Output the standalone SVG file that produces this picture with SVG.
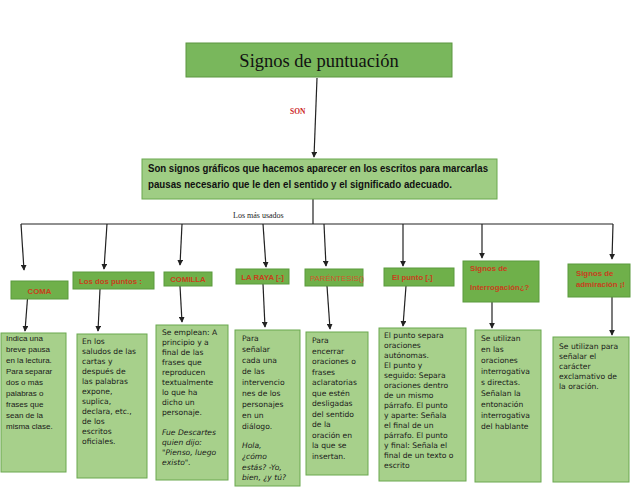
<svg xmlns="http://www.w3.org/2000/svg" width="638" height="493" viewBox="0 0 638 493">
<defs>
<style>
.hdr{fill:#6fb04a;stroke:#5a9a3c;stroke-width:1}
.body{fill:#a7d08b;stroke:#6aa84f;stroke-width:1}
.ht{font-family:"Liberation Sans",Arial,sans-serif;font-weight:bold;font-size:7.8px;fill:#c8401c}
.bt{font-family:"DejaVu Sans",Verdana,sans-serif;font-size:7.6px;fill:#1a1a1a}
.bta{font-family:"Liberation Sans",Arial,sans-serif;font-size:8px;fill:#1a1a1a}
.it{font-style:italic}
.ln{stroke:#222;stroke-width:1.2;fill:none}
</style>
<marker id="ah" viewBox="0 0 8 8" refX="7" refY="4" markerWidth="5" markerHeight="5" orient="auto">
<path d="M0,0 L8,4 L0,8 z" fill="#222"/>
</marker>
</defs>
<rect width="638" height="493" fill="#ffffff"/>

<g id="connectors">
<line class="ln" x1="317" y1="78" x2="314" y2="157" marker-end="url(#ah)"/>
<line class="ln" x1="313" y1="199" x2="313" y2="224"/>
<line class="ln" x1="21" y1="224" x2="613" y2="224"/>
<line class="ln" x1="21" y1="224" x2="24" y2="270" marker-end="url(#ah)"/>
<line class="ln" x1="107" y1="224" x2="104" y2="269" marker-end="url(#ah)"/>
<line class="ln" x1="182" y1="224" x2="180" y2="265" marker-end="url(#ah)"/>
<line class="ln" x1="263" y1="224" x2="266" y2="267" marker-end="url(#ah)"/>
<line class="ln" x1="324" y1="224" x2="326" y2="266" marker-end="url(#ah)"/>
<line class="ln" x1="403" y1="224" x2="403" y2="266" marker-end="url(#ah)"/>
<line class="ln" x1="482" y1="224" x2="482" y2="258" marker-end="url(#ah)"/>
<line class="ln" x1="613" y1="224" x2="612" y2="259" marker-end="url(#ah)"/>
<line class="ln" x1="28" y1="292" x2="25" y2="331" marker-end="url(#ah)"/>
<line class="ln" x1="100" y1="289" x2="98" y2="331" marker-end="url(#ah)"/>
<line class="ln" x1="180" y1="286" x2="182" y2="322" marker-end="url(#ah)"/>
<line class="ln" x1="263" y1="284" x2="265" y2="327" marker-end="url(#ah)"/>
<line class="ln" x1="327" y1="286" x2="330" y2="329" marker-end="url(#ah)"/>
<line class="ln" x1="406" y1="286" x2="403" y2="326" marker-end="url(#ah)"/>
<line class="ln" x1="492" y1="302" x2="492" y2="328" marker-end="url(#ah)"/>
<line class="ln" x1="612" y1="297" x2="612" y2="335" marker-end="url(#ah)"/>
<text x="290" y="114" font-family="'Liberation Serif',serif" font-weight="bold" font-size="7.5px" fill="#cc1f1f">SON</text>
<text x="233" y="218" font-family="'Liberation Serif',serif" font-size="8px" fill="#222">Los más usados</text>
</g>

<g id="title">
<rect x="186" y="43" width="266" height="34" fill="#79b75c" stroke="#5d9640"/>
<text x="319" y="67" text-anchor="middle" font-family="'Liberation Serif',serif" font-size="18.5px" fill="#111">Signos de puntuación</text>
</g>

<g id="definicion">
<rect x="142" y="159" width="355" height="40" fill="#9fcd84" stroke="#6aa84f"/>
<text font-family="'Liberation Sans',Arial,sans-serif" font-weight="bold" font-size="10px" fill="#111">
<tspan x="148" y="172" textLength="340" lengthAdjust="spacingAndGlyphs">Son signos gráficos que hacemos aparecer en los escritos para marcarlas</tspan>
<tspan x="148" y="188" textLength="304" lengthAdjust="spacingAndGlyphs">pausas necesario que le den el sentido y el significado adecuado.</tspan>
</text>
</g>

<g id="coma">
<rect class="hdr" x="11" y="281" width="57" height="18"/>
<text class="ht" x="39.5" y="293.5" text-anchor="middle" font-size="8.5px">COMA</text>
<rect class="body" x="1" y="333" width="65" height="139"/>
<text class="bta">
<tspan x="6" y="341">Indica una</tspan>
<tspan x="6" y="352">breve pausa</tspan>
<tspan x="6" y="363">en la lectura.</tspan>
<tspan x="6" y="374">Para separar</tspan>
<tspan x="6" y="385">dos o más</tspan>
<tspan x="6" y="396">palabras o</tspan>
<tspan x="6" y="407">frases que</tspan>
<tspan x="6" y="418">sean de la</tspan>
<tspan x="6" y="429">misma clase.</tspan>
</text>
</g>

<g id="dos-puntos">
<rect class="hdr" x="73" y="272" width="81" height="17"/>
<text class="ht" x="79" y="283.5">Los dos puntos :</text>
<rect class="body" x="77" y="334" width="70" height="144"/>
<text class="bt">
<tspan x="82" y="344">En los</tspan>
<tspan x="82" y="354">saludos de las</tspan>
<tspan x="82" y="364">cartas y</tspan>
<tspan x="82" y="374">después de</tspan>
<tspan x="82" y="384">las palabras</tspan>
<tspan x="82" y="394">expone,</tspan>
<tspan x="82" y="404">suplica,</tspan>
<tspan x="82" y="414">declara, etc.,</tspan>
<tspan x="82" y="424">de los</tspan>
<tspan x="82" y="434">escritos</tspan>
<tspan x="82" y="444">oficiales.</tspan>
</text>
</g>

<g id="comilla">
<rect class="hdr" x="164" y="272" width="48" height="14"/>
<text class="ht" x="188" y="282" text-anchor="middle">COMILLA</text>
<rect class="body" x="156" y="325" width="72" height="155"/>
<text class="bt">
<tspan x="162" y="335">Se emplean:  A</tspan>
<tspan x="162" y="345">principio y a</tspan>
<tspan x="162" y="355">final de las</tspan>
<tspan x="162" y="365">frases que</tspan>
<tspan x="162" y="375">reproducen</tspan>
<tspan x="162" y="385">textualmente</tspan>
<tspan x="162" y="395">lo que ha</tspan>
<tspan x="162" y="405">dicho un</tspan>
<tspan x="162" y="415">personaje.</tspan>
<tspan class="it" x="162" y="435">Fue Descartes</tspan>
<tspan class="it" x="162" y="445">quien dijo:</tspan>
<tspan class="it" x="162" y="455">"Pienso, luego</tspan>
<tspan class="it" x="162" y="465">existo".</tspan>
</text>
</g>

<g id="raya">
<rect class="hdr" x="236" y="269" width="53" height="15"/>
<text class="ht" x="262.5" y="279.5" text-anchor="middle">LA RAYA [-]</text>
<rect class="body" x="235" y="330" width="65" height="156"/>
<text class="bt">
<tspan x="242" y="341">Para</tspan>
<tspan x="242" y="352">señalar</tspan>
<tspan x="242" y="363">cada una</tspan>
<tspan x="242" y="374">de las</tspan>
<tspan x="242" y="385">intervencio</tspan>
<tspan x="242" y="396">nes de los</tspan>
<tspan x="242" y="407">personajes</tspan>
<tspan x="242" y="418">en un</tspan>
<tspan x="242" y="429">diálogo.</tspan>
<tspan class="it" x="242" y="448">Hola,</tspan>
<tspan class="it" x="242" y="459">¿cómo</tspan>
<tspan class="it" x="242" y="470">estás? -Yo,</tspan>
<tspan class="it" x="242" y="480">bien, ¿y tú?</tspan>
</text>
</g>

<g id="parentesis">
<rect class="hdr" x="305" y="269" width="58" height="17"/>
<text x="310" y="280.5" font-family="'Liberation Sans',Arial,sans-serif" font-size="7.8px" fill="#d4552a">PARÉNTESIS()</text>
<rect class="body" x="306" y="332" width="62" height="143"/>
<text class="bt">
<tspan x="312" y="343">Para</tspan>
<tspan x="312" y="353.5">encerrar</tspan>
<tspan x="312" y="364">oraciones o</tspan>
<tspan x="312" y="374.5">frases</tspan>
<tspan x="312" y="385">aclaratorias</tspan>
<tspan x="312" y="395.5">que estén</tspan>
<tspan x="312" y="406">desligadas</tspan>
<tspan x="312" y="416.5">del sentido</tspan>
<tspan x="312" y="427">de la</tspan>
<tspan x="312" y="437.5">oración en</tspan>
<tspan x="312" y="448">la que se</tspan>
<tspan x="312" y="458.5">insertan.</tspan>
</text>
</g>

<g id="punto">
<rect class="hdr" x="384" y="268" width="70" height="18"/>
<text class="ht" x="392" y="280" font-size="8.3px">El punto  [.]</text>
<rect class="body" x="379" y="328" width="87" height="153"/>
<text class="bt">
<tspan x="384" y="338">El punto separa</tspan>
<tspan x="384" y="348">oraciones</tspan>
<tspan x="384" y="358">autónomas.</tspan>
<tspan x="384" y="368">El punto y</tspan>
<tspan x="384" y="378">seguido:  Separa</tspan>
<tspan x="384" y="388">oraciones dentro</tspan>
<tspan x="384" y="398">de un mismo</tspan>
<tspan x="384" y="408">párrafo. El punto</tspan>
<tspan x="384" y="418">y aparte:  Señala</tspan>
<tspan x="384" y="428">el final de un</tspan>
<tspan x="384" y="438">párrafo. El punto</tspan>
<tspan x="384" y="448">y final:  Señala el</tspan>
<tspan x="384" y="458">final de un texto o</tspan>
<tspan x="384" y="468">escrito</tspan>
</text>
</g>

<g id="interrogacion">
<rect class="hdr" x="463" y="261" width="76" height="41"/>
<text class="ht" font-size="7.5px">
<tspan x="470" y="271">Signos de</tspan>
<tspan x="470" y="290">Interrogación¿?</tspan>
</text>
<rect class="body" x="475" y="330" width="66" height="152"/>
<text class="bt">
<tspan x="481" y="341">Se utilizan</tspan>
<tspan x="481" y="352">en las</tspan>
<tspan x="481" y="363">oraciones</tspan>
<tspan x="481" y="374">interrogativa</tspan>
<tspan x="481" y="385">s directas.</tspan>
<tspan x="481" y="396">Señalan  la</tspan>
<tspan x="481" y="407">entonación</tspan>
<tspan x="481" y="418">interrogativa</tspan>
<tspan x="481" y="429">del hablante</tspan>
</text>
</g>

<g id="admiracion">
<rect class="hdr" x="568" y="264" width="62" height="33"/>
<text class="ht" font-size="7.5px">
<tspan x="576" y="276">Signos de</tspan>
<tspan x="576" y="287">admiración ¡!</tspan>
</text>
<rect class="body" x="553" y="337" width="76" height="145"/>
<text class="bt">
<tspan x="559" y="349">Se utilizan para</tspan>
<tspan x="559" y="359">señalar el</tspan>
<tspan x="559" y="369">carácter</tspan>
<tspan x="559" y="379">exclamativo de</tspan>
<tspan x="559" y="389">la oración.</tspan>
</text>
</g>
</svg>
